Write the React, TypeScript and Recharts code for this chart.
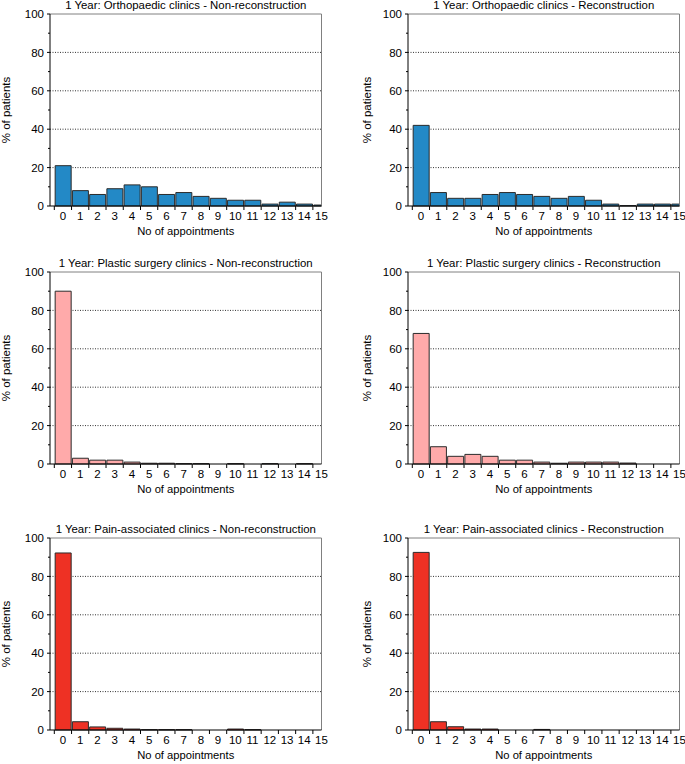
import { Bar, BarChart, CartesianGrid, ReferenceLine, XAxis, YAxis } from "recharts";

// number of appointments (x categories)
const appointments = [0, 1, 2, 3, 4, 5, 6, 7, 8, 9, 10, 11, 12, 13, 14, 15];

// % of patients
const orthoNonRecon = [21, 8, 6, 9, 11, 10, 6, 7, 5, 4, 3, 3, 1, 2, 1, 0.5];
const orthoRecon = [42, 7, 4, 4, 6, 7, 6, 5, 4, 5, 3, 1, 0.2, 1, 1, 1];
const plasticNonRecon = [90, 3, 2, 2, 1, 0.4, 0.4, 0.2, 0.2, 0, 0.2, 0, 0.2, 0, 0.2, 0];
const plasticRecon = [68, 9, 4, 5, 4, 2, 2, 1, 0.4, 1, 1, 1, 0.5, 0, 0, 0];
const painNonRecon = [92.2, 4.3, 1.6, 0.9, 0.5, 0.2, 0.2, 0.2, 0, 0, 0.5, 0.2, 0, 0, 0, 0];
const painRecon = [92.5, 4.3, 1.7, 0.5, 0.5, 0, 0, 0.3, 0, 0, 0, 0, 0, 0, 0, 0];

const yTicks = [0, 10, 20, 30, 40, 50, 60, 70, 80, 90, 100];
const gridValues = [20, 40, 60, 80];
// labels sit on the integers, tick marks between the bars
const xTicks = appointments.flatMap((n) => (n === 0 ? [-0.5, 0] : [n - 0.5, n]));

const BLUE = "#2389c6";
const PINK = "#ffaaaa";
const RED = "#ee3124";

const panels = [
  { title: "1 Year: Orthopaedic clinics - Non-reconstruction", values: orthoNonRecon, color: BLUE, col: 0, row: 0 },
  { title: "1 Year: Orthopaedic clinics - Reconstruction", values: orthoRecon, color: BLUE, col: 1, row: 0 },
  { title: "1 Year: Plastic surgery clinics - Non-reconstruction", values: plasticNonRecon, color: PINK, col: 0, row: 1 },
  { title: "1 Year: Plastic surgery clinics - Reconstruction", values: plasticRecon, color: PINK, col: 1, row: 1 },
  { title: "1 Year: Pain-associated clinics - Non-reconstruction", values: painNonRecon, color: RED, col: 0, row: 2 },
  { title: "1 Year: Pain-associated clinics - Reconstruction", values: painRecon, color: RED, col: 1, row: 2 },
];

const COL_LEFT = [0, 358];
const ROW_TOP = [0, 258, 524];
const CHART_W = 330;
const CHART_H = 250;
const Y_AXIS_W = 50;
const PLOT_W = 271.5;
const MARGIN = { top: 14, right: CHART_W - Y_AXIS_W - PLOT_W, bottom: 4, left: 0 };
const Y_LABEL_X = [6, 9];
const FONT = 11.5;

function XTick(props: any) {
  const { x, y, payload } = props;
  const v = payload.value;
  if (Number.isInteger(v)) {
    return (
      <text x={x} y={y + 14} textAnchor="middle" fill="#000" fontSize={FONT}>
        {v}
      </text>
    );
  }
  return <line x1={x} x2={x} y1={y} y2={y + 4} stroke="#000" />;
}

function YTick(props: any) {
  const { x, y, payload } = props;
  const v = payload.value;
  const major = v % 20 === 0;
  return (
    <g>
      <line x1={x - (major ? 3 : 2)} x2={x} y1={y} y2={y} stroke="#000" />
      {major && (
        <text x={x - 6} y={y} dy="0.36em" textAnchor="end" fill="#000" fontSize={FONT}>
          {v}
        </text>
      )}
    </g>
  );
}

function Panel({ title, values, color, col }: { title: string; values: number[]; color: string; col: number }) {
  const data = appointments.map((n, i) => ({ n, pct: values[i] }));

  return (
    <div style={{ position: "relative", width: CHART_W, height: CHART_H }}>
      <BarChart width={CHART_W} height={CHART_H} data={data} margin={MARGIN} barCategoryGap="5%">
        <CartesianGrid
          vertical={false}
          horizontalValues={gridValues}
          stroke="#333"
          strokeDasharray="1 1.5"
        />
        <ReferenceLine y={100} stroke="#808080" />
        <ReferenceLine x={15} stroke="#808080" />
        <XAxis
          dataKey="n"
          type="number"
          domain={[-0.75, 15]}
          allowDataOverflow
          ticks={xTicks}
          interval={0}
          tick={<XTick />}
          tickLine={false}
          tickSize={0}
          tickMargin={0}
          height={40}
          stroke="#000"
          label={{ value: "No of appointments", position: "insideBottom", offset: 11, fill: "#000", fontSize: 11.2 }}
        />
        <YAxis
          type="number"
          domain={[0, 100]}
          ticks={yTicks}
          interval={0}
          tick={<YTick />}
          tickLine={false}
          tickSize={0}
          tickMargin={0}
          width={Y_AXIS_W}
          stroke="#000"
          label={{
            value: "% of patients",
            angle: -90,
            position: "insideLeft",
            offset: Y_LABEL_X[col],
            fill: "#000",
            fontSize: 11.5,
            style: { textAnchor: "middle" },
          }}
        />
        <Bar dataKey="pct" fill={color} stroke="#2b2b2b" strokeWidth={1} isAnimationActive={false} />
      </BarChart>
      <svg
        width={CHART_W}
        height={MARGIN.top}
        style={{ position: "absolute", left: 0, top: 0, overflow: "visible" }}
      >
        <text x={Y_AXIS_W + PLOT_W / 2} y={MARGIN.top - 5.5} textAnchor="middle" fill="#000" fontSize={11.4}>
          {title}
        </text>
      </svg>
    </div>
  );
}

export default function App() {
  return (
    <div
      style={{
        position: "absolute",
        left: 0,
        top: 0,
        width: 685,
        height: 764,
        overflow: "hidden",
        background: "#fff",
        fontFamily: "'Liberation Sans', Arial, Helvetica, sans-serif",
      }}
    >
      {panels.map((p) => (
        <div key={p.title} style={{ position: "absolute", left: COL_LEFT[p.col], top: ROW_TOP[p.row] }}>
          <Panel title={p.title} values={p.values} color={p.color} col={p.col} />
        </div>
      ))}
    </div>
  );
}
